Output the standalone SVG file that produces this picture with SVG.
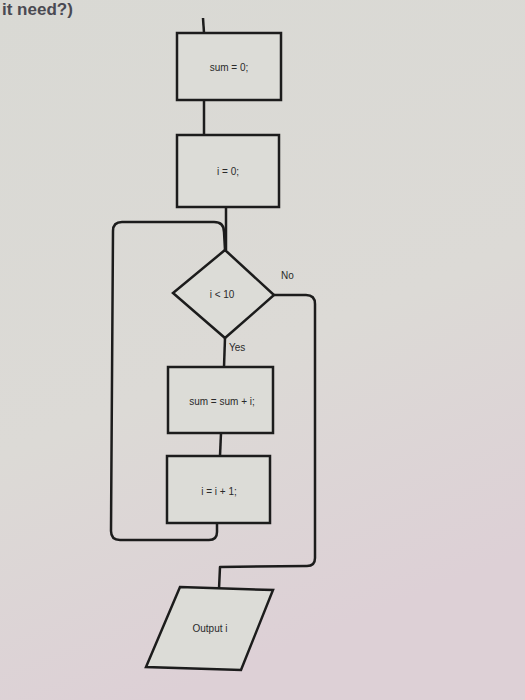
<svg xmlns="http://www.w3.org/2000/svg" width="525" height="700" viewBox="0 0 525 700">
<defs>
<linearGradient id="bg" x1="0" y1="0" x2="0.3" y2="1">
<stop offset="0" stop-color="#d9d9d4"/>
<stop offset="0.6" stop-color="#dcdad6"/>
<stop offset="1" stop-color="#ddd0d6"/>
</linearGradient>
<style>
.s{fill:none;stroke:#1c1c1c;stroke-width:2.5;stroke-linejoin:round}
.b{fill:#dcdcd7;stroke:#1c1c1c;stroke-width:2.5}
.t{font-family:"Liberation Sans",Arial,sans-serif;font-size:10px;fill:#2a2a2a;text-anchor:middle}
.l{font-family:"Liberation Sans",Arial,sans-serif;font-size:10px;fill:#2a2a2a}
</style>
</defs>
<rect width="525" height="700" fill="url(#bg)"/>
<text x="2" y="15" font-family="Liberation Sans,Arial,sans-serif" font-size="17" font-weight="bold" fill="#4a4a52">it need?)</text>
<g id="connectors">
<path class="s" d="M203 18 L204 33"/>
<path class="s" d="M204 100 L204 135"/>
<path class="s" d="M226 207 L226 250"/>
<path class="s" d="M217 523 L217 532 Q217 540 209 540 L120 540 Q111 540 111 531 L113 231 Q113 222 122 222 L214 222 Q224 222 224 232 L225 250"/>
<path class="s" d="M274 295 L306 295 Q315 295 315 304 L315 558 Q315 566 307 566 L220 567 L219 589"/>
<path class="s" d="M225 338 L224 367"/>
<path class="s" d="M221 433 L220 456"/>
</g>
<g id="n1"><rect class="b" x="177" y="33" width="104" height="67"/><text class="t" x="229" y="71">sum = 0;</text></g>
<g id="n2"><rect class="b" x="177" y="135" width="102" height="72"/><text class="t" x="228" y="175">i = 0;</text></g>
<g id="n3"><path class="b" d="M225 250 L274 295 L225 338 L173 293 Z"/><text class="t" x="222" y="298">i &lt; 10</text>
<text class="l" x="281" y="279">No</text><text class="l" x="229" y="351">Yes</text></g>
<g id="n4"><rect class="b" x="168" y="367" width="105" height="66"/><text class="t" x="222" y="405">sum = sum + i;</text></g>
<g id="n5"><rect class="b" x="167" y="456" width="103" height="67"/><text class="t" x="219" y="495">i = i + 1;</text></g>
<g id="n6"><path class="b" d="M180 587 L273 590 L241 670 L146 667 Z"/><text class="t" x="210" y="632">Output i</text></g>
</svg>
